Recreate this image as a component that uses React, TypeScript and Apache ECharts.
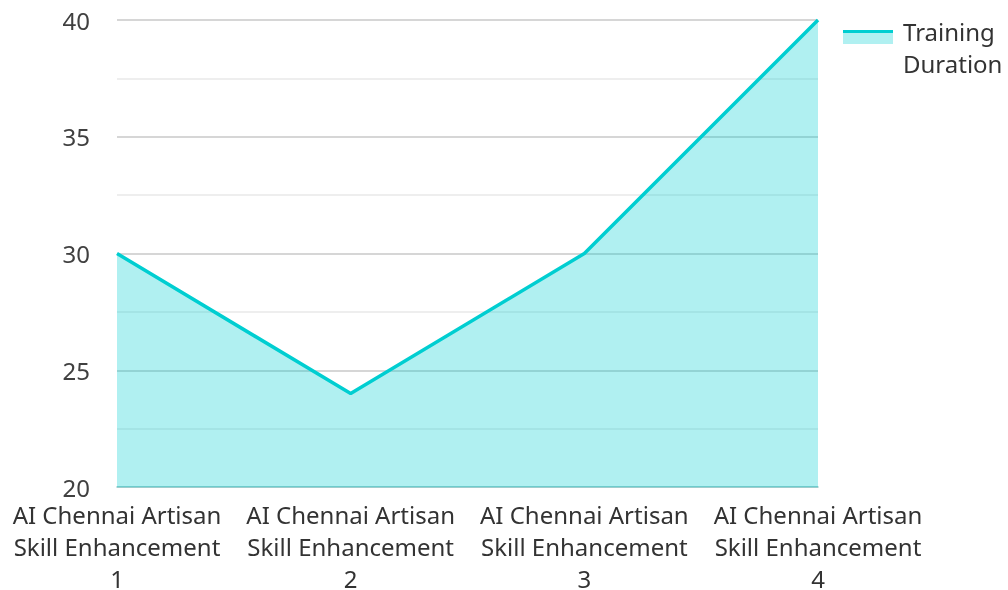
import React, { useEffect, useRef } from "react";
import * as echarts from "echarts";

const categories = [
  "AI Chennai Artisan Skill Enhancement 1",
  "AI Chennai Artisan Skill Enhancement 2",
  "AI Chennai Artisan Skill Enhancement 3",
  "AI Chennai Artisan Skill Enhancement 4",
];
const seriesName = "Training Duration";
const durations = [30, 24, 30, 40];

const LINE = "#00CED1";
const FILL = "rgba(0,206,209,0.31)";
const FONT = "Noto Sans";

export default function App() {
  const ref = useRef<HTMLDivElement>(null);
  useEffect(() => {
    const chart = echarts.init(ref.current!, null, { renderer: "svg" });
    chart.setOption({
      animation: false,
      grid: { left: 117, right: 190, top: 20, bottom: 103, containLabel: false, outerBoundsMode: "none" },
      xAxis: {
        type: "category",
        data: categories,
        boundaryGap: false,
        axisLine: { lineStyle: { color: "#8cc9c9", width: 1.5 } },
        axisTick: { show: false },
        axisLabel: {
          interval: 0,
          margin: 11,
          fontFamily: FONT,
          fontSize: 24,
          color: "#333333",
          lineHeight: 32,
          formatter: (v: string) => v.replace(" Skill ", "\nSkill ").replace(/ (\d+)$/, "\n$1"),
        },
      },
      yAxis: {
        type: "value",
        min: 20,
        max: 40,
        interval: 5,
        axisLine: { show: false },
        axisTick: { show: false },
        axisLabel: { margin: 27, fontFamily: FONT, fontSize: 24, lineHeight: 20, color: "#404040" },
        splitLine: { lineStyle: { color: "#c8c8c8", width: 1.5 } },
        minorTick: { show: false, splitNumber: 2 },
        minorSplitLine: { show: true, lineStyle: { color: "#e8e8e8", width: 1.5 } },
      },
      series: [
        {
          name: seriesName,
          type: "line",
          data: durations,
          showSymbol: false,
          lineStyle: { color: LINE, width: 3.5 },
          itemStyle: { color: LINE },
          areaStyle: { color: FILL, opacity: 1, origin: "start" },
          z: 1,
        },
      ],
      graphic: [
        { type: "rect", shape: { x: 843, y: 31, width: 50, height: 13 }, style: { fill: FILL } },
        { type: "line", shape: { x1: 843, y1: 31.5, x2: 893, y2: 31.5 }, style: { stroke: LINE, lineWidth: 3 } },
        {
          type: "text",
          left: 903,
          top: 15,
          style: { text: "Training\nDuration", fontFamily: FONT, fontSize: 24, lineHeight: 32, fill: "#333333" },
        },
      ],
    });
    return () => chart.dispose();
  }, []);
  return <div ref={ref} style={{ position: "fixed", left: 0, top: 0, width: 1008, height: 590 }} />;
}
